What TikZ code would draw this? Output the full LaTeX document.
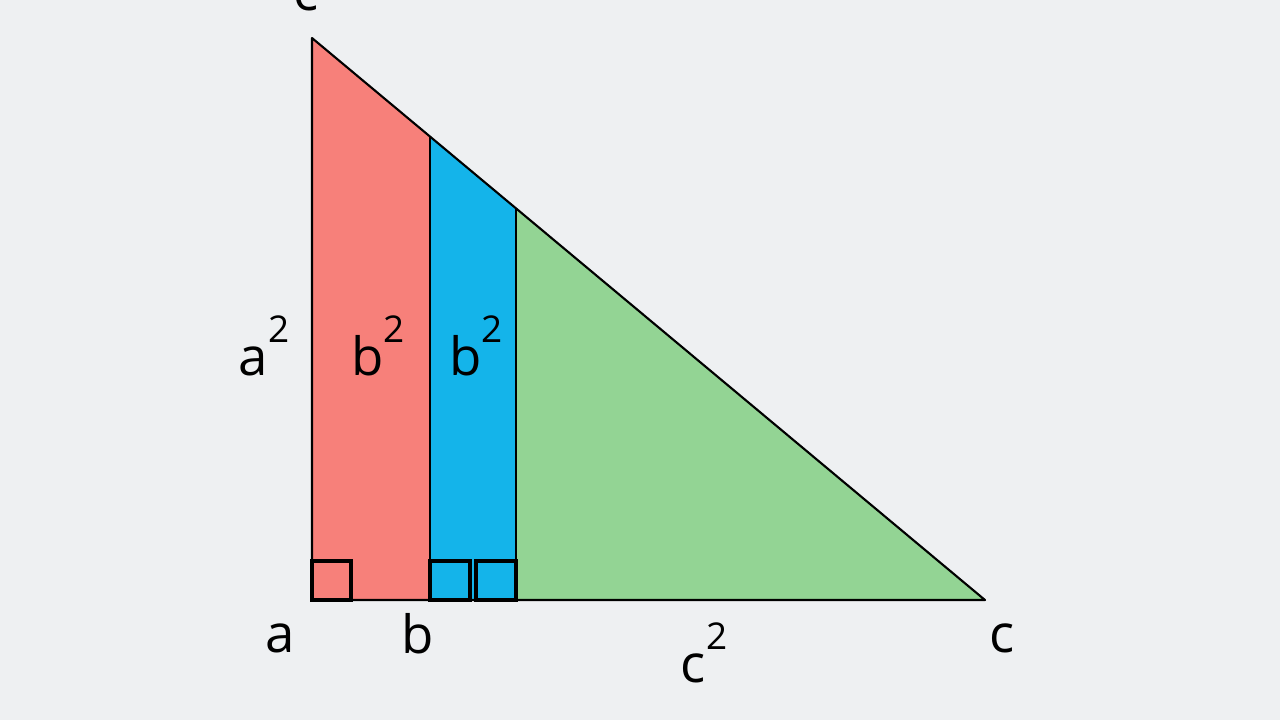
\documentclass[tikz,border=0pt]{standalone}
\usepackage{fontspec}
\setmainfont{Open Sans}
\usetikzlibrary{positioning}
\definecolor{bgGray}{RGB}{238,240,242}
\definecolor{stripRed}{RGB}{247,128,122}
\definecolor{stripBlue}{RGB}{20,180,234}
\definecolor{stripGreen}{RGB}{147,212,148}
\newcommand{\sq}[1]{#1\raisebox{1.15ex}{\fontsize{10.5}{12}\selectfont 2}}

\begin{document}
\begin{tikzpicture}[x=0.01cm, y=-0.01cm,
    lbl/.style={font=\fontsize{15}{18}\selectfont, inner sep=0pt},
    side/.style={draw=black, line width=0.6pt, line join=round},
    rightmark/.style={draw=black, line width=0.9pt}]
    \fill[bgGray] (0,0) rectangle (1280,720);
    \useasboundingbox (0,0) rectangle (1280,720);

    % corners of the triangle and the strip ends
    \coordinate (A) at (312,600);
    \coordinate (T) at (312,38);
    \coordinate (C) at (985,600);
    \coordinate (P) at (430,136.5);
    \coordinate (P0) at (430,600);
    \coordinate (Q) at (516,208.4);
    \coordinate (Q0) at (516,600);

    \fill[stripRed] (A) -- (T) -- (P) -- (P0) -- cycle;
    \fill[stripBlue] (P0) -- (P) -- (Q) -- (Q0) -- cycle;
    \fill[stripGreen] (Q0) -- (Q) -- (C) -- cycle;

    \draw[side] (A) -- (T) -- (C) -- cycle;
    \draw[side] (P) -- (P0);
    \draw[side] (Q) -- (Q0);

    % right angle marks
    \draw[rightmark] (312,561) rectangle (351,600);
    \draw[rightmark] (430,561) rectangle (470,600);
    \draw[rightmark] (476,561) rectangle (516,600);

    \node[lbl] (topC) at (306,-4) {c};
    \node[lbl] (sqA) at (264,346) {\sq{a}};
    \node[lbl] (sqB1) at (378,346) {\sq{b}};
    \node[lbl] (sqB2) at (476,346) {\sq{b}};
    \node[lbl] (botA) at (280,638) {a};
    \node[lbl] (botB) at (418,634) {b};
    \node[lbl] (sqC) at (704,653) {\sq{c}};
    \node[lbl] (botC) at (1002,638) {c};
\end{tikzpicture}
\end{document}
